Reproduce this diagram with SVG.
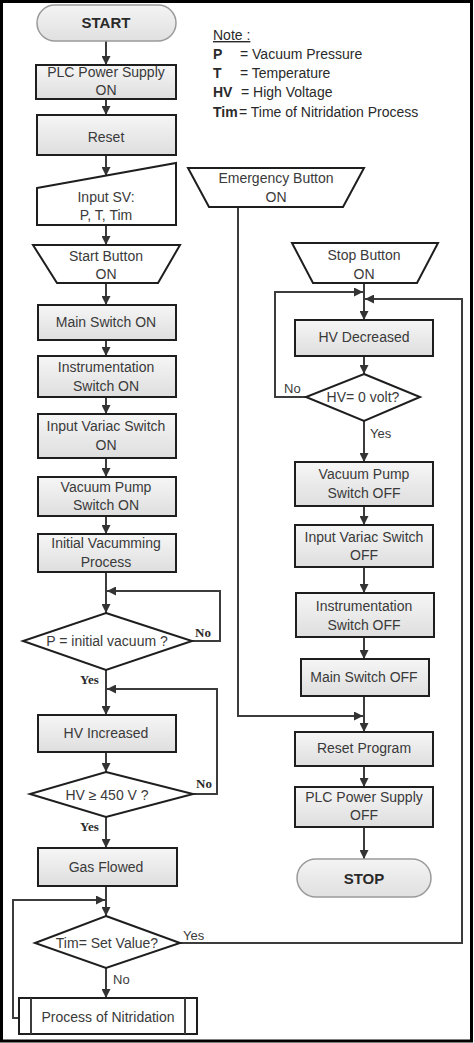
<svg xmlns="http://www.w3.org/2000/svg" width="474" height="1043" viewBox="0 0 474 1043">
<defs>
<linearGradient id="g" x1="0" y1="0" x2="0" y2="1"><stop offset="0" stop-color="#f6f6f6"/><stop offset="1" stop-color="#dedede"/></linearGradient>
<linearGradient id="gp" x1="0" y1="0" x2="0" y2="1"><stop offset="0" stop-color="#f4f4f4"/><stop offset="1" stop-color="#e0e0e0"/></linearGradient>
<marker id="ah" viewBox="0 0 10 10" refX="10" refY="5" markerWidth="9" markerHeight="9" markerUnits="userSpaceOnUse" orient="auto"><path d="M0,0 L10,5 L0,10 z" fill="#333"/></marker>
</defs>
<style>
.box{fill:url(#g);stroke:#1e1e1e;stroke-width:2}
.io{fill:#fff;stroke:#1e1e1e;stroke-width:2}
.term{fill:url(#gp);stroke:#9a9a9a;stroke-width:1.5}
.t{font-family:"Liberation Sans",Arial,sans-serif;font-size:14px;fill:#3a3a3a;text-anchor:middle}
.tb{font-family:"Liberation Sans",Arial,sans-serif;font-size:15px;font-weight:bold;fill:#2a2a2a;text-anchor:middle}
.n{font-family:"Liberation Sans",Arial,sans-serif;font-size:14px;fill:#2a2a2a}
.nb{font-weight:bold}
.lbl{font-family:"Liberation Sans",Arial,sans-serif;font-size:13px;fill:#3a3a3a}
.sl{font-family:"Liberation Serif","Times New Roman",serif;font-size:13px;font-weight:bold;fill:#2a2a2a}
.c{fill:none;stroke:#3c3c3c;stroke-width:2}
.ca{fill:none;stroke:#3c3c3c;stroke-width:2;marker-end:url(#ah)}
</style>
<rect x="0" y="0" width="474" height="1043" fill="#fff"/>
<rect x="1.5" y="1.5" width="470" height="1039.5" fill="none" stroke="#000" stroke-width="3"/>

<g id="note">
<text class="n" x="213" y="40" text-decoration="underline">Note :</text>
<text class="n nb" x="213" y="59">P</text><text class="n" x="240" y="59">= Vacuum Pressure</text>
<text class="n nb" x="213" y="78">T</text><text class="n" x="240" y="78">= Temperature</text>
<text class="n nb" x="213" y="97">HV</text><text class="n" x="241" y="97">= High Voltage</text>
<text class="n nb" x="213" y="117">Tim</text><text class="n" x="239" y="117">= Time of Nitridation Process</text>
</g>

<g id="connectors">
<path class="ca" d="M106,41 V65"/>
<path class="ca" d="M106,99 V115"/>
<path class="ca" d="M106,155 V176"/>
<path class="ca" d="M106,225 V245"/>
<path class="ca" d="M106,283 V305"/>
<path class="ca" d="M106,340 V356"/>
<path class="ca" d="M106,397 V414"/>
<path class="ca" d="M106,458 V477"/>
<path class="ca" d="M106,516 V534"/>
<path class="ca" d="M106,572 V613"/>
<path class="ca" d="M192,641 H220 V591 H107"/>
<path class="ca" d="M106,670 V715"/>
<path class="ca" d="M193,794 H217 V689 H107"/>
<path class="ca" d="M106,752 V772"/>
<path class="ca" d="M106,817 V848"/>
<path class="ca" d="M106,886 V916"/>
<path class="ca" d="M106,968 V998"/>
<path class="ca" d="M19,1018 H13 V900 H105"/>
<path class="ca" d="M180,943 H462 V299 H365"/>
<path class="ca" d="M364,283 V320"/>
<path class="ca" d="M364,356 V374"/>
<path class="ca" d="M306,397 H275 V292 H363"/>
<path class="ca" d="M364,421 V462"/>
<path class="ca" d="M364,506 V525"/>
<path class="ca" d="M364,567 V593"/>
<path class="ca" d="M364,637 V659"/>
<path class="ca" d="M364,696 V732"/>
<path class="ca" d="M238,207 V716 H363"/>
<path class="ca" d="M364,766 V787"/>
<path class="ca" d="M364,827 V859"/>
</g>

<g id="start"><rect class="term" x="37" y="5" width="139" height="36" rx="18"/><text class="tb" x="106" y="28">START</text></g>
<g id="plc-on"><rect class="box" x="36" y="65" width="140" height="34"/><text class="t" x="106" y="77">PLC Power Supply</text><text class="t" x="106" y="95">ON</text></g>
<g id="reset"><rect class="box" x="37" y="115" width="139" height="40"/><text class="t" x="106" y="142">Reset</text></g>
<g id="input-sv"><path class="io" d="M37,188 L176,163 V225 H37 Z"/><text class="t" x="106" y="202">Input SV:</text><text class="t" x="106" y="220">P, T, Tim</text></g>
<g id="start-button"><path class="io" d="M33,245 H180 L158,283 H57 Z"/><text class="t" x="106" y="261">Start Button</text><text class="t" x="106" y="279">ON</text></g>
<g id="main-on"><rect class="box" x="38" y="305" width="138" height="35"/><text class="t" x="106" y="327">Main Switch ON</text></g>
<g id="instr-on"><rect class="box" x="38" y="356" width="138" height="41"/><text class="t" x="106" y="372">Instrumentation</text><text class="t" x="106" y="391">Switch ON</text></g>
<g id="variac-on"><rect class="box" x="38" y="414" width="138" height="44"/><text class="t" x="106" y="431">Input Variac Switch</text><text class="t" x="106" y="450">ON</text></g>
<g id="pump-on"><rect class="box" x="38" y="477" width="138" height="39"/><text class="t" x="106" y="492">Vacuum Pump</text><text class="t" x="106" y="510">Switch ON</text></g>
<g id="initial-vac"><rect class="box" x="38" y="534" width="138" height="38"/><text class="t" x="106" y="548">Initial Vacumming</text><text class="t" x="106" y="567">Process</text></g>
<g id="p-decision"><path class="io" d="M106,613 L192,641 L106,670 L23,641 Z"/><text class="t" x="107" y="646">P = initial vacuum ?</text><text class="sl" x="195" y="637">No</text><text class="sl" x="80" y="684">Yes</text></g>
<g id="hv-inc"><rect class="box" x="38" y="715" width="138" height="37"/><text class="t" x="106" y="738">HV Increased</text></g>
<g id="hv-decision"><path class="io" d="M106,772 L193,794 L106,817 L30,794 Z"/><text class="t" x="107" y="800">HV ≥ 450 V ?</text><text class="sl" x="196" y="788">No</text><text class="sl" x="80" y="831">Yes</text></g>
<g id="gas"><rect class="box" x="38" y="848" width="139" height="38"/><text class="t" x="106" y="872">Gas Flowed</text></g>
<g id="tim-decision"><path class="io" d="M106,916 L180,943 L106,968 L35,943 Z"/><text class="t" x="107" y="948">Tim= Set Value?</text><text class="lbl" x="183" y="940">Yes</text><text class="lbl" x="113" y="984">No</text></g>
<g id="nitridation"><rect class="io" x="19" y="998" width="178" height="36"/><path class="c" d="M31,998 V1034 M185,998 V1034" stroke="#1e1e1e"/><text class="t" x="108" y="1022">Process of Nitridation</text></g>

<g id="emergency"><path class="io" d="M188,168 H364 L343,207 H209 Z"/><text class="t" x="276" y="183">Emergency Button</text><text class="t" x="276" y="202">ON</text></g>
<g id="stop-button"><path class="io" d="M292,243 H438 L417,283 H313 Z"/><text class="t" x="364" y="260">Stop Button</text><text class="t" x="364" y="279">ON</text></g>
<g id="hv-dec"><rect class="box" x="295" y="320" width="138" height="36"/><text class="t" x="364" y="342">HV Decreased</text></g>
<g id="hv0-decision"><path class="io" d="M364,374 L420,397 L364,421 L306,397 Z"/><text class="t" x="363" y="402">HV= 0 volt?</text><text class="lbl" x="284" y="393">No</text><text class="lbl" x="370" y="438">Yes</text></g>
<g id="pump-off"><rect class="box" x="295" y="462" width="138" height="44"/><text class="t" x="364" y="479">Vacuum Pump</text><text class="t" x="364" y="498">Switch OFF</text></g>
<g id="variac-off"><rect class="box" x="295" y="525" width="138" height="42"/><text class="t" x="364" y="542">Input Variac Switch</text><text class="t" x="364" y="560">OFF</text></g>
<g id="instr-off"><rect class="box" x="296" y="593" width="138" height="44"/><text class="t" x="364" y="611">Instrumentation</text><text class="t" x="364" y="630">Switch OFF</text></g>
<g id="main-off"><rect class="box" x="301" y="659" width="128" height="37"/><text class="t" x="364" y="682">Main Switch OFF</text></g>
<g id="reset-program"><rect class="box" x="295" y="732" width="138" height="34"/><text class="t" x="364" y="753">Reset Program</text></g>
<g id="plc-off"><rect class="box" x="295" y="787" width="138" height="40"/><text class="t" x="364" y="802">PLC Power Supply</text><text class="t" x="364" y="820">OFF</text></g>
<g id="stop"><rect class="term" x="297" y="859" width="134" height="38" rx="19"/><text class="tb" x="364" y="884">STOP</text></g>
</svg>
